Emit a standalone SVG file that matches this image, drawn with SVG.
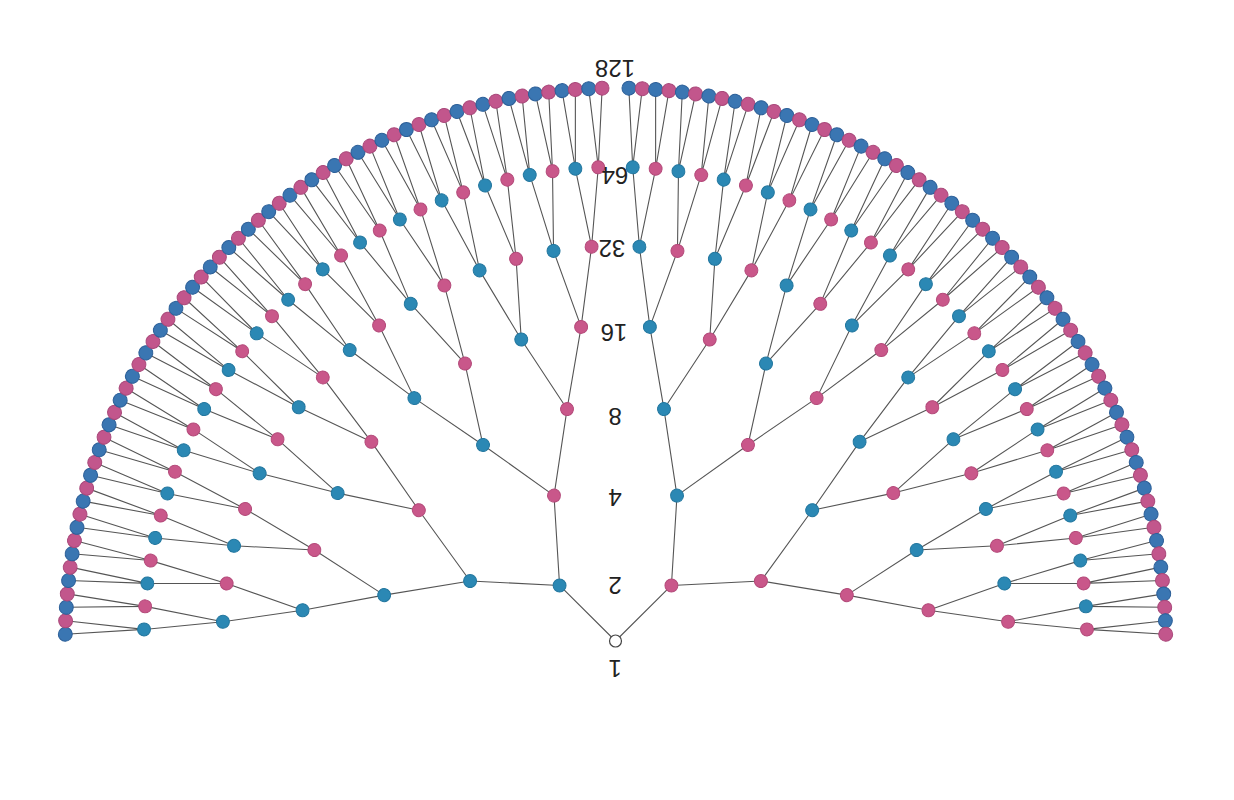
<svg xmlns="http://www.w3.org/2000/svg" xmlns:xlink="http://www.w3.org/1999/xlink" width="1234" height="800" viewBox="0 0 1234 800">
<style>
.e{fill:none;stroke:#555;stroke-width:1.1}
.b{fill:#2b88b4;stroke:#23779f;stroke-width:1}
.p{fill:#c9578a;stroke:#b44a7a;stroke-width:1}
.lb{fill:#3a76b2;stroke:#2c5f98;stroke-width:1}
.lp{fill:#c2568c;stroke:#a9487a;stroke-width:1}
.t{font-family:"Liberation Sans",Arial,sans-serif;font-size:24px;fill:#222;text-anchor:middle;dominant-baseline:central}
</style>
<defs>
<path id="e1" class="e" d="M0,0L-56.2,-55.52M0,0L56.2,-55.52"/>
<path id="e2" class="e" d="M-79,0L-146.16,-60.02M-79,0L-146.16,60.02"/>
<path id="e3" class="e" d="M-158,0L-232.52,-45.88M-158,0L-232.52,45.88"/>
<path id="e4" class="e" d="M-237,0L-314.5,-30.73M-237,0L-314.5,30.73"/>
<path id="e5" class="e" d="M-316,0L-394.53,-19.23M-316,0L-394.53,19.23"/>
<path id="e6" class="e" d="M-395,0L-473.86,-11.54M-395,0L-473.86,11.54"/>
<path id="e7" class="e" d="M-474,0L-552.96,-6.73M-474,0L-552.96,6.73"/>
<circle id="c1b" class="b" cx="-79" r="6.5"/><circle id="c1p" class="p" cx="-79" r="6.5"/>
<circle id="c2b" class="b" cx="-158" r="6.5"/><circle id="c2p" class="p" cx="-158" r="6.5"/>
<circle id="c3b" class="b" cx="-237" r="6.5"/><circle id="c3p" class="p" cx="-237" r="6.5"/>
<circle id="c4b" class="b" cx="-316" r="6.5"/><circle id="c4p" class="p" cx="-316" r="6.5"/>
<circle id="c5b" class="b" cx="-395" r="6.5"/><circle id="c5p" class="p" cx="-395" r="6.5"/>
<circle id="c6b" class="b" cx="-474" r="6.5"/><circle id="c6p" class="p" cx="-474" r="6.5"/>
<circle id="c7b" class="lb" cx="-553" r="7"/><circle id="c7p" class="lp" cx="-553" r="7"/>
</defs>
<g id="connectors" transform="translate(615.5,641) scale(0.995,1)">
<use href="#e1"/>
<use href="#e2" transform="rotate(44.65)"/><use href="#e2" transform="rotate(135.35)"/>
<use href="#e3" transform="rotate(22.33)"/><use href="#e3" transform="rotate(66.98)"/><use href="#e3" transform="rotate(113.02)"/><use href="#e3" transform="rotate(157.67)"/>
<use href="#e4" transform="rotate(11.16)"/><use href="#e4" transform="rotate(33.49)"/><use href="#e4" transform="rotate(55.81)"/><use href="#e4" transform="rotate(78.14)"/><use href="#e4" transform="rotate(101.86)"/><use href="#e4" transform="rotate(124.19)"/><use href="#e4" transform="rotate(146.51)"/><use href="#e4" transform="rotate(168.84)"/>
<use href="#e5" transform="rotate(5.58)"/><use href="#e5" transform="rotate(16.74)"/><use href="#e5" transform="rotate(27.91)"/><use href="#e5" transform="rotate(39.07)"/><use href="#e5" transform="rotate(50.23)"/><use href="#e5" transform="rotate(61.4)"/><use href="#e5" transform="rotate(72.56)"/><use href="#e5" transform="rotate(83.72)"/><use href="#e5" transform="rotate(96.28)"/><use href="#e5" transform="rotate(107.44)"/><use href="#e5" transform="rotate(118.6)"/><use href="#e5" transform="rotate(129.77)"/><use href="#e5" transform="rotate(140.93)"/><use href="#e5" transform="rotate(152.09)"/><use href="#e5" transform="rotate(163.26)"/><use href="#e5" transform="rotate(174.42)"/>
<use href="#e6" transform="rotate(2.79)"/><use href="#e6" transform="rotate(8.37)"/><use href="#e6" transform="rotate(13.95)"/><use href="#e6" transform="rotate(19.53)"/><use href="#e6" transform="rotate(25.12)"/><use href="#e6" transform="rotate(30.7)"/><use href="#e6" transform="rotate(36.28)"/><use href="#e6" transform="rotate(41.86)"/><use href="#e6" transform="rotate(47.44)"/><use href="#e6" transform="rotate(53.02)"/><use href="#e6" transform="rotate(58.6)"/><use href="#e6" transform="rotate(64.19)"/><use href="#e6" transform="rotate(69.77)"/><use href="#e6" transform="rotate(75.35)"/><use href="#e6" transform="rotate(80.93)"/><use href="#e6" transform="rotate(86.51)"/><use href="#e6" transform="rotate(93.49)"/><use href="#e6" transform="rotate(99.07)"/><use href="#e6" transform="rotate(104.65)"/><use href="#e6" transform="rotate(110.23)"/><use href="#e6" transform="rotate(115.81)"/><use href="#e6" transform="rotate(121.4)"/><use href="#e6" transform="rotate(126.98)"/><use href="#e6" transform="rotate(132.56)"/><use href="#e6" transform="rotate(138.14)"/><use href="#e6" transform="rotate(143.72)"/><use href="#e6" transform="rotate(149.3)"/><use href="#e6" transform="rotate(154.88)"/><use href="#e6" transform="rotate(160.47)"/><use href="#e6" transform="rotate(166.05)"/><use href="#e6" transform="rotate(171.63)"/><use href="#e6" transform="rotate(177.21)"/>
<use href="#e7" transform="rotate(1.4)"/><use href="#e7" transform="rotate(4.19)"/><use href="#e7" transform="rotate(6.98)"/><use href="#e7" transform="rotate(9.77)"/><use href="#e7" transform="rotate(12.56)"/><use href="#e7" transform="rotate(15.35)"/><use href="#e7" transform="rotate(18.14)"/><use href="#e7" transform="rotate(20.93)"/><use href="#e7" transform="rotate(23.72)"/><use href="#e7" transform="rotate(26.51)"/><use href="#e7" transform="rotate(29.3)"/><use href="#e7" transform="rotate(32.09)"/><use href="#e7" transform="rotate(34.88)"/><use href="#e7" transform="rotate(37.67)"/><use href="#e7" transform="rotate(40.47)"/><use href="#e7" transform="rotate(43.26)"/><use href="#e7" transform="rotate(46.05)"/><use href="#e7" transform="rotate(48.84)"/><use href="#e7" transform="rotate(51.63)"/><use href="#e7" transform="rotate(54.42)"/><use href="#e7" transform="rotate(57.21)"/><use href="#e7" transform="rotate(60)"/><use href="#e7" transform="rotate(62.79)"/><use href="#e7" transform="rotate(65.58)"/><use href="#e7" transform="rotate(68.37)"/><use href="#e7" transform="rotate(71.16)"/><use href="#e7" transform="rotate(73.95)"/><use href="#e7" transform="rotate(76.74)"/><use href="#e7" transform="rotate(79.53)"/><use href="#e7" transform="rotate(82.33)"/><use href="#e7" transform="rotate(85.12)"/><use href="#e7" transform="rotate(87.91)"/>
<use href="#e7" transform="rotate(92.09)"/><use href="#e7" transform="rotate(94.88)"/><use href="#e7" transform="rotate(97.67)"/><use href="#e7" transform="rotate(100.47)"/><use href="#e7" transform="rotate(103.26)"/><use href="#e7" transform="rotate(106.05)"/><use href="#e7" transform="rotate(108.84)"/><use href="#e7" transform="rotate(111.63)"/><use href="#e7" transform="rotate(114.42)"/><use href="#e7" transform="rotate(117.21)"/><use href="#e7" transform="rotate(120)"/><use href="#e7" transform="rotate(122.79)"/><use href="#e7" transform="rotate(125.58)"/><use href="#e7" transform="rotate(128.37)"/><use href="#e7" transform="rotate(131.16)"/><use href="#e7" transform="rotate(133.95)"/><use href="#e7" transform="rotate(136.74)"/><use href="#e7" transform="rotate(139.53)"/><use href="#e7" transform="rotate(142.33)"/><use href="#e7" transform="rotate(145.12)"/><use href="#e7" transform="rotate(147.91)"/><use href="#e7" transform="rotate(150.7)"/><use href="#e7" transform="rotate(153.49)"/><use href="#e7" transform="rotate(156.28)"/><use href="#e7" transform="rotate(159.07)"/><use href="#e7" transform="rotate(161.86)"/><use href="#e7" transform="rotate(164.65)"/><use href="#e7" transform="rotate(167.44)"/><use href="#e7" transform="rotate(170.23)"/><use href="#e7" transform="rotate(173.02)"/><use href="#e7" transform="rotate(175.81)"/><use href="#e7" transform="rotate(178.6)"/>
</g>
<g id="nodes" transform="translate(615.5,641) scale(0.995,1)">
<g id="root"><circle r="6" fill="#fff" stroke="#444" stroke-width="1.2"/></g>
<g id="n1_0" transform="rotate(44.65)"><use href="#c1b"/></g><g id="n1_1" transform="rotate(135.35)"><use href="#c1p"/></g>
<g id="n2_0" transform="rotate(22.33)"><use href="#c2b"/></g><g id="n2_1" transform="rotate(66.98)"><use href="#c2p"/></g><g id="n2_2" transform="rotate(113.02)"><use href="#c2b"/></g><g id="n2_3" transform="rotate(157.67)"><use href="#c2p"/></g>
<g id="n3_0" transform="rotate(11.16)"><use href="#c3b"/></g><g id="n3_1" transform="rotate(33.49)"><use href="#c3p"/></g><g id="n3_2" transform="rotate(55.81)"><use href="#c3b"/></g><g id="n3_3" transform="rotate(78.14)"><use href="#c3p"/></g><g id="n3_4" transform="rotate(101.86)"><use href="#c3b"/></g><g id="n3_5" transform="rotate(124.19)"><use href="#c3p"/></g><g id="n3_6" transform="rotate(146.51)"><use href="#c3b"/></g><g id="n3_7" transform="rotate(168.84)"><use href="#c3p"/></g>
<g id="n4_0" transform="rotate(5.58)"><use href="#c4b"/></g><g id="n4_1" transform="rotate(16.74)"><use href="#c4p"/></g><g id="n4_2" transform="rotate(27.91)"><use href="#c4b"/></g><g id="n4_3" transform="rotate(39.07)"><use href="#c4p"/></g><g id="n4_4" transform="rotate(50.23)"><use href="#c4b"/></g><g id="n4_5" transform="rotate(61.4)"><use href="#c4p"/></g><g id="n4_6" transform="rotate(72.56)"><use href="#c4b"/></g><g id="n4_7" transform="rotate(83.72)"><use href="#c4p"/></g><g id="n4_8" transform="rotate(96.28)"><use href="#c4b"/></g><g id="n4_9" transform="rotate(107.44)"><use href="#c4p"/></g><g id="n4_10" transform="rotate(118.6)"><use href="#c4b"/></g><g id="n4_11" transform="rotate(129.77)"><use href="#c4p"/></g><g id="n4_12" transform="rotate(140.93)"><use href="#c4b"/></g><g id="n4_13" transform="rotate(152.09)"><use href="#c4p"/></g><g id="n4_14" transform="rotate(163.26)"><use href="#c4b"/></g><g id="n4_15" transform="rotate(174.42)"><use href="#c4p"/></g>
<g id="n5_0" transform="rotate(2.79)"><use href="#c5b"/></g><g id="n5_1" transform="rotate(8.37)"><use href="#c5p"/></g><g id="n5_2" transform="rotate(13.95)"><use href="#c5b"/></g><g id="n5_3" transform="rotate(19.53)"><use href="#c5p"/></g><g id="n5_4" transform="rotate(25.12)"><use href="#c5b"/></g><g id="n5_5" transform="rotate(30.7)"><use href="#c5p"/></g><g id="n5_6" transform="rotate(36.28)"><use href="#c5b"/></g><g id="n5_7" transform="rotate(41.86)"><use href="#c5p"/></g><g id="n5_8" transform="rotate(47.44)"><use href="#c5b"/></g><g id="n5_9" transform="rotate(53.02)"><use href="#c5p"/></g><g id="n5_10" transform="rotate(58.6)"><use href="#c5b"/></g><g id="n5_11" transform="rotate(64.19)"><use href="#c5p"/></g><g id="n5_12" transform="rotate(69.77)"><use href="#c5b"/></g><g id="n5_13" transform="rotate(75.35)"><use href="#c5p"/></g><g id="n5_14" transform="rotate(80.93)"><use href="#c5b"/></g><g id="n5_15" transform="rotate(86.51)"><use href="#c5p"/></g>
<g id="n5_16" transform="rotate(93.49)"><use href="#c5b"/></g><g id="n5_17" transform="rotate(99.07)"><use href="#c5p"/></g><g id="n5_18" transform="rotate(104.65)"><use href="#c5b"/></g><g id="n5_19" transform="rotate(110.23)"><use href="#c5p"/></g><g id="n5_20" transform="rotate(115.81)"><use href="#c5b"/></g><g id="n5_21" transform="rotate(121.4)"><use href="#c5p"/></g><g id="n5_22" transform="rotate(126.98)"><use href="#c5b"/></g><g id="n5_23" transform="rotate(132.56)"><use href="#c5p"/></g><g id="n5_24" transform="rotate(138.14)"><use href="#c5b"/></g><g id="n5_25" transform="rotate(143.72)"><use href="#c5p"/></g><g id="n5_26" transform="rotate(149.3)"><use href="#c5b"/></g><g id="n5_27" transform="rotate(154.88)"><use href="#c5p"/></g><g id="n5_28" transform="rotate(160.47)"><use href="#c5b"/></g><g id="n5_29" transform="rotate(166.05)"><use href="#c5p"/></g><g id="n5_30" transform="rotate(171.63)"><use href="#c5b"/></g><g id="n5_31" transform="rotate(177.21)"><use href="#c5p"/></g>
<g id="n6_0" transform="rotate(1.4)"><use href="#c6b"/></g><g id="n6_1" transform="rotate(4.19)"><use href="#c6p"/></g><g id="n6_2" transform="rotate(6.98)"><use href="#c6b"/></g><g id="n6_3" transform="rotate(9.77)"><use href="#c6p"/></g><g id="n6_4" transform="rotate(12.56)"><use href="#c6b"/></g><g id="n6_5" transform="rotate(15.35)"><use href="#c6p"/></g><g id="n6_6" transform="rotate(18.14)"><use href="#c6b"/></g><g id="n6_7" transform="rotate(20.93)"><use href="#c6p"/></g><g id="n6_8" transform="rotate(23.72)"><use href="#c6b"/></g><g id="n6_9" transform="rotate(26.51)"><use href="#c6p"/></g><g id="n6_10" transform="rotate(29.3)"><use href="#c6b"/></g><g id="n6_11" transform="rotate(32.09)"><use href="#c6p"/></g><g id="n6_12" transform="rotate(34.88)"><use href="#c6b"/></g><g id="n6_13" transform="rotate(37.67)"><use href="#c6p"/></g><g id="n6_14" transform="rotate(40.47)"><use href="#c6b"/></g><g id="n6_15" transform="rotate(43.26)"><use href="#c6p"/></g>
<g id="n6_16" transform="rotate(46.05)"><use href="#c6b"/></g><g id="n6_17" transform="rotate(48.84)"><use href="#c6p"/></g><g id="n6_18" transform="rotate(51.63)"><use href="#c6b"/></g><g id="n6_19" transform="rotate(54.42)"><use href="#c6p"/></g><g id="n6_20" transform="rotate(57.21)"><use href="#c6b"/></g><g id="n6_21" transform="rotate(60)"><use href="#c6p"/></g><g id="n6_22" transform="rotate(62.79)"><use href="#c6b"/></g><g id="n6_23" transform="rotate(65.58)"><use href="#c6p"/></g><g id="n6_24" transform="rotate(68.37)"><use href="#c6b"/></g><g id="n6_25" transform="rotate(71.16)"><use href="#c6p"/></g><g id="n6_26" transform="rotate(73.95)"><use href="#c6b"/></g><g id="n6_27" transform="rotate(76.74)"><use href="#c6p"/></g><g id="n6_28" transform="rotate(79.53)"><use href="#c6b"/></g><g id="n6_29" transform="rotate(82.33)"><use href="#c6p"/></g><g id="n6_30" transform="rotate(85.12)"><use href="#c6b"/></g><g id="n6_31" transform="rotate(87.91)"><use href="#c6p"/></g>
<g id="n6_32" transform="rotate(92.09)"><use href="#c6b"/></g><g id="n6_33" transform="rotate(94.88)"><use href="#c6p"/></g><g id="n6_34" transform="rotate(97.67)"><use href="#c6b"/></g><g id="n6_35" transform="rotate(100.47)"><use href="#c6p"/></g><g id="n6_36" transform="rotate(103.26)"><use href="#c6b"/></g><g id="n6_37" transform="rotate(106.05)"><use href="#c6p"/></g><g id="n6_38" transform="rotate(108.84)"><use href="#c6b"/></g><g id="n6_39" transform="rotate(111.63)"><use href="#c6p"/></g><g id="n6_40" transform="rotate(114.42)"><use href="#c6b"/></g><g id="n6_41" transform="rotate(117.21)"><use href="#c6p"/></g><g id="n6_42" transform="rotate(120)"><use href="#c6b"/></g><g id="n6_43" transform="rotate(122.79)"><use href="#c6p"/></g><g id="n6_44" transform="rotate(125.58)"><use href="#c6b"/></g><g id="n6_45" transform="rotate(128.37)"><use href="#c6p"/></g><g id="n6_46" transform="rotate(131.16)"><use href="#c6b"/></g><g id="n6_47" transform="rotate(133.95)"><use href="#c6p"/></g>
<g id="n6_48" transform="rotate(136.74)"><use href="#c6b"/></g><g id="n6_49" transform="rotate(139.53)"><use href="#c6p"/></g><g id="n6_50" transform="rotate(142.33)"><use href="#c6b"/></g><g id="n6_51" transform="rotate(145.12)"><use href="#c6p"/></g><g id="n6_52" transform="rotate(147.91)"><use href="#c6b"/></g><g id="n6_53" transform="rotate(150.7)"><use href="#c6p"/></g><g id="n6_54" transform="rotate(153.49)"><use href="#c6b"/></g><g id="n6_55" transform="rotate(156.28)"><use href="#c6p"/></g><g id="n6_56" transform="rotate(159.07)"><use href="#c6b"/></g><g id="n6_57" transform="rotate(161.86)"><use href="#c6p"/></g><g id="n6_58" transform="rotate(164.65)"><use href="#c6b"/></g><g id="n6_59" transform="rotate(167.44)"><use href="#c6p"/></g><g id="n6_60" transform="rotate(170.23)"><use href="#c6b"/></g><g id="n6_61" transform="rotate(173.02)"><use href="#c6p"/></g><g id="n6_62" transform="rotate(175.81)"><use href="#c6b"/></g><g id="n6_63" transform="rotate(178.6)"><use href="#c6p"/></g>
<g id="n7_0" transform="rotate(0.7)"><use href="#c7b"/></g><g id="n7_1" transform="rotate(2.09)"><use href="#c7p"/></g><g id="n7_2" transform="rotate(3.49)"><use href="#c7b"/></g><g id="n7_3" transform="rotate(4.88)"><use href="#c7p"/></g><g id="n7_4" transform="rotate(6.28)"><use href="#c7b"/></g><g id="n7_5" transform="rotate(7.67)"><use href="#c7p"/></g><g id="n7_6" transform="rotate(9.07)"><use href="#c7b"/></g><g id="n7_7" transform="rotate(10.47)"><use href="#c7p"/></g><g id="n7_8" transform="rotate(11.86)"><use href="#c7b"/></g><g id="n7_9" transform="rotate(13.26)"><use href="#c7p"/></g><g id="n7_10" transform="rotate(14.65)"><use href="#c7b"/></g><g id="n7_11" transform="rotate(16.05)"><use href="#c7p"/></g><g id="n7_12" transform="rotate(17.44)"><use href="#c7b"/></g><g id="n7_13" transform="rotate(18.84)"><use href="#c7p"/></g><g id="n7_14" transform="rotate(20.23)"><use href="#c7b"/></g><g id="n7_15" transform="rotate(21.63)"><use href="#c7p"/></g>
<g id="n7_16" transform="rotate(23.02)"><use href="#c7b"/></g><g id="n7_17" transform="rotate(24.42)"><use href="#c7p"/></g><g id="n7_18" transform="rotate(25.81)"><use href="#c7b"/></g><g id="n7_19" transform="rotate(27.21)"><use href="#c7p"/></g><g id="n7_20" transform="rotate(28.6)"><use href="#c7b"/></g><g id="n7_21" transform="rotate(30)"><use href="#c7p"/></g><g id="n7_22" transform="rotate(31.4)"><use href="#c7b"/></g><g id="n7_23" transform="rotate(32.79)"><use href="#c7p"/></g><g id="n7_24" transform="rotate(34.19)"><use href="#c7b"/></g><g id="n7_25" transform="rotate(35.58)"><use href="#c7p"/></g><g id="n7_26" transform="rotate(36.98)"><use href="#c7b"/></g><g id="n7_27" transform="rotate(38.37)"><use href="#c7p"/></g><g id="n7_28" transform="rotate(39.77)"><use href="#c7b"/></g><g id="n7_29" transform="rotate(41.16)"><use href="#c7p"/></g><g id="n7_30" transform="rotate(42.56)"><use href="#c7b"/></g><g id="n7_31" transform="rotate(43.95)"><use href="#c7p"/></g>
<g id="n7_32" transform="rotate(45.35)"><use href="#c7b"/></g><g id="n7_33" transform="rotate(46.74)"><use href="#c7p"/></g><g id="n7_34" transform="rotate(48.14)"><use href="#c7b"/></g><g id="n7_35" transform="rotate(49.53)"><use href="#c7p"/></g><g id="n7_36" transform="rotate(50.93)"><use href="#c7b"/></g><g id="n7_37" transform="rotate(52.33)"><use href="#c7p"/></g><g id="n7_38" transform="rotate(53.72)"><use href="#c7b"/></g><g id="n7_39" transform="rotate(55.12)"><use href="#c7p"/></g><g id="n7_40" transform="rotate(56.51)"><use href="#c7b"/></g><g id="n7_41" transform="rotate(57.91)"><use href="#c7p"/></g><g id="n7_42" transform="rotate(59.3)"><use href="#c7b"/></g><g id="n7_43" transform="rotate(60.7)"><use href="#c7p"/></g><g id="n7_44" transform="rotate(62.09)"><use href="#c7b"/></g><g id="n7_45" transform="rotate(63.49)"><use href="#c7p"/></g><g id="n7_46" transform="rotate(64.88)"><use href="#c7b"/></g><g id="n7_47" transform="rotate(66.28)"><use href="#c7p"/></g>
<g id="n7_48" transform="rotate(67.67)"><use href="#c7b"/></g><g id="n7_49" transform="rotate(69.07)"><use href="#c7p"/></g><g id="n7_50" transform="rotate(70.47)"><use href="#c7b"/></g><g id="n7_51" transform="rotate(71.86)"><use href="#c7p"/></g><g id="n7_52" transform="rotate(73.26)"><use href="#c7b"/></g><g id="n7_53" transform="rotate(74.65)"><use href="#c7p"/></g><g id="n7_54" transform="rotate(76.05)"><use href="#c7b"/></g><g id="n7_55" transform="rotate(77.44)"><use href="#c7p"/></g><g id="n7_56" transform="rotate(78.84)"><use href="#c7b"/></g><g id="n7_57" transform="rotate(80.23)"><use href="#c7p"/></g><g id="n7_58" transform="rotate(81.63)"><use href="#c7b"/></g><g id="n7_59" transform="rotate(83.02)"><use href="#c7p"/></g><g id="n7_60" transform="rotate(84.42)"><use href="#c7b"/></g><g id="n7_61" transform="rotate(85.81)"><use href="#c7p"/></g><g id="n7_62" transform="rotate(87.21)"><use href="#c7b"/></g><g id="n7_63" transform="rotate(88.6)"><use href="#c7p"/></g>
<g id="n7_64" transform="rotate(91.4)"><use href="#c7b"/></g><g id="n7_65" transform="rotate(92.79)"><use href="#c7p"/></g><g id="n7_66" transform="rotate(94.19)"><use href="#c7b"/></g><g id="n7_67" transform="rotate(95.58)"><use href="#c7p"/></g><g id="n7_68" transform="rotate(96.98)"><use href="#c7b"/></g><g id="n7_69" transform="rotate(98.37)"><use href="#c7p"/></g><g id="n7_70" transform="rotate(99.77)"><use href="#c7b"/></g><g id="n7_71" transform="rotate(101.16)"><use href="#c7p"/></g><g id="n7_72" transform="rotate(102.56)"><use href="#c7b"/></g><g id="n7_73" transform="rotate(103.95)"><use href="#c7p"/></g><g id="n7_74" transform="rotate(105.35)"><use href="#c7b"/></g><g id="n7_75" transform="rotate(106.74)"><use href="#c7p"/></g><g id="n7_76" transform="rotate(108.14)"><use href="#c7b"/></g><g id="n7_77" transform="rotate(109.53)"><use href="#c7p"/></g><g id="n7_78" transform="rotate(110.93)"><use href="#c7b"/></g><g id="n7_79" transform="rotate(112.33)"><use href="#c7p"/></g>
<g id="n7_80" transform="rotate(113.72)"><use href="#c7b"/></g><g id="n7_81" transform="rotate(115.12)"><use href="#c7p"/></g><g id="n7_82" transform="rotate(116.51)"><use href="#c7b"/></g><g id="n7_83" transform="rotate(117.91)"><use href="#c7p"/></g><g id="n7_84" transform="rotate(119.3)"><use href="#c7b"/></g><g id="n7_85" transform="rotate(120.7)"><use href="#c7p"/></g><g id="n7_86" transform="rotate(122.09)"><use href="#c7b"/></g><g id="n7_87" transform="rotate(123.49)"><use href="#c7p"/></g><g id="n7_88" transform="rotate(124.88)"><use href="#c7b"/></g><g id="n7_89" transform="rotate(126.28)"><use href="#c7p"/></g><g id="n7_90" transform="rotate(127.67)"><use href="#c7b"/></g><g id="n7_91" transform="rotate(129.07)"><use href="#c7p"/></g><g id="n7_92" transform="rotate(130.47)"><use href="#c7b"/></g><g id="n7_93" transform="rotate(131.86)"><use href="#c7p"/></g><g id="n7_94" transform="rotate(133.26)"><use href="#c7b"/></g><g id="n7_95" transform="rotate(134.65)"><use href="#c7p"/></g>
<g id="n7_96" transform="rotate(136.05)"><use href="#c7b"/></g><g id="n7_97" transform="rotate(137.44)"><use href="#c7p"/></g><g id="n7_98" transform="rotate(138.84)"><use href="#c7b"/></g><g id="n7_99" transform="rotate(140.23)"><use href="#c7p"/></g><g id="n7_100" transform="rotate(141.63)"><use href="#c7b"/></g><g id="n7_101" transform="rotate(143.02)"><use href="#c7p"/></g><g id="n7_102" transform="rotate(144.42)"><use href="#c7b"/></g><g id="n7_103" transform="rotate(145.81)"><use href="#c7p"/></g><g id="n7_104" transform="rotate(147.21)"><use href="#c7b"/></g><g id="n7_105" transform="rotate(148.6)"><use href="#c7p"/></g><g id="n7_106" transform="rotate(150)"><use href="#c7b"/></g><g id="n7_107" transform="rotate(151.4)"><use href="#c7p"/></g><g id="n7_108" transform="rotate(152.79)"><use href="#c7b"/></g><g id="n7_109" transform="rotate(154.19)"><use href="#c7p"/></g><g id="n7_110" transform="rotate(155.58)"><use href="#c7b"/></g><g id="n7_111" transform="rotate(156.98)"><use href="#c7p"/></g>
<g id="n7_112" transform="rotate(158.37)"><use href="#c7b"/></g><g id="n7_113" transform="rotate(159.77)"><use href="#c7p"/></g><g id="n7_114" transform="rotate(161.16)"><use href="#c7b"/></g><g id="n7_115" transform="rotate(162.56)"><use href="#c7p"/></g><g id="n7_116" transform="rotate(163.95)"><use href="#c7b"/></g><g id="n7_117" transform="rotate(165.35)"><use href="#c7p"/></g><g id="n7_118" transform="rotate(166.74)"><use href="#c7b"/></g><g id="n7_119" transform="rotate(168.14)"><use href="#c7p"/></g><g id="n7_120" transform="rotate(169.53)"><use href="#c7b"/></g><g id="n7_121" transform="rotate(170.93)"><use href="#c7p"/></g><g id="n7_122" transform="rotate(172.33)"><use href="#c7b"/></g><g id="n7_123" transform="rotate(173.72)"><use href="#c7p"/></g><g id="n7_124" transform="rotate(175.12)"><use href="#c7b"/></g><g id="n7_125" transform="rotate(176.51)"><use href="#c7p"/></g><g id="n7_126" transform="rotate(177.91)"><use href="#c7b"/></g><g id="n7_127" transform="rotate(179.3)"><use href="#c7p"/></g>
</g>
<g id="labels">
<text class="t" transform="translate(615,668) rotate(180)">1</text>
<text class="t" transform="translate(615,585) rotate(180)">2</text>
<text class="t" transform="translate(615,497) rotate(180)">4</text>
<text class="t" transform="translate(615,416) rotate(180)">8</text>
<text class="t" transform="translate(614,332) rotate(180)">16</text>
<text class="t" transform="translate(612,248) rotate(180)">32</text>
<text class="t" transform="translate(615,175) rotate(180)">64</text>
<text class="t" transform="translate(615,68) rotate(180)">128</text>
</g>
</svg>
